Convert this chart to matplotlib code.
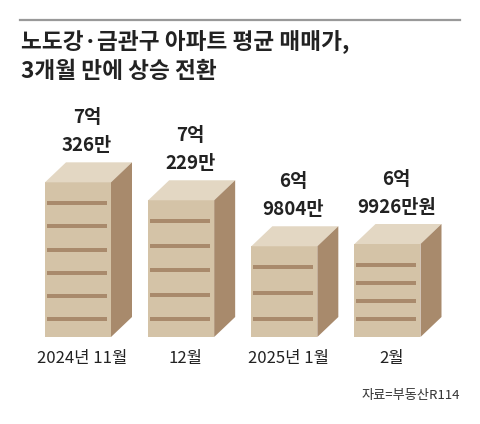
import matplotlib
matplotlib.use("Agg")
import matplotlib.pyplot as plt
from matplotlib.patches import Polygon, Rectangle

plt.rcParams['font.family'] = ['Noto Sans CJK KR', 'DejaVu Sans']

# ---- data ----
categories = ["2024년 11월", "12월", "2025년 1월", "2월"]
values = [73260, 72290, 69804, 69926]          # 만원
label_top = ["7억", "7억", "6억", "6억"]
label_bottom = ["326만", "229만", "9804만", "9926만원"]
title_lines = ["노도강·금관구 아파트 평균 매매가,", "3개월 만에 상승 전환"]
source = "자료=부동산R114"

# ---- style ----
W, H, DPI = 480, 424, 100
BASE = 64900            # value at the bar bottoms
YMAX = 77710
C_FRONT = "#d4c3a7"
C_TOP = "#e3d7c3"
C_SIDE = "#a88a6c"
C_STRIPE = "#a98a6c"
C_TEXT = "#222222"
STRIPES = [6, 5, 3, 4]

fig = plt.figure(figsize=(W / DPI, H / DPI), dpi=DPI)
fig.patch.set_facecolor("white")

# axes geometry in pixels
ax_left_px, ax_right_px = 16.1, 449.4
ax_bottom_px, ax_top_px = 337, 100   # from top
ax = fig.add_axes([ax_left_px / W, 1 - ax_bottom_px / H,
                   (ax_right_px - ax_left_px) / W, (ax_bottom_px - ax_top_px) / H])
ax.set_xlim(-0.6, 3.6)
ax.set_ylim(BASE, YMAX)
ax.axis("off")

px_x = (ax_right_px - ax_left_px) / 4.2           # px per x unit
px_y = (ax_bottom_px - ax_top_px) / (YMAX - BASE)  # px per value unit

bw = 66 / px_x
dx = 21 / px_x
dy = 20 / px_y

x = list(range(len(values)))
ax.bar(x, [v - BASE for v in values], bottom=BASE, width=bw,
       color=C_FRONT, edgecolor="none", zorder=2)

for i, v in enumerate(values):
    l, r = i - bw / 2, i + bw / 2
    # top face
    ax.add_patch(Polygon([(l, v), (r, v), (r + dx, v + dy), (l + dx, v + dy)],
                         closed=True, facecolor=C_TOP, edgecolor="none", zorder=2))
    # side face
    ax.add_patch(Polygon([(r, v), (r + dx, v + dy), (r + dx, BASE + dy), (r, BASE)],
                         closed=True, facecolor=C_SIDE, edgecolor="none", zorder=2))
    # stripes
    n = STRIPES[i]
    y0 = BASE + 18 / px_y
    y1 = v - 21 / px_y
    sh = 4 / px_y
    for k in range(n):
        yc = y0 + (y1 - y0) * k / (n - 1) if n > 1 else y0
        ax.add_patch(Rectangle((l + 2 / px_x, yc - sh / 2), bw - 6 / px_x, sh,
                               facecolor=C_STRIPE, edgecolor="none", zorder=3))
    # value labels
    cx = i + dx / 2 - 1.5 / px_x
    ax.annotate(label_bottom[i], xy=(cx, v + dy), xytext=(0, 17 * 0.72),
                textcoords="offset points", ha="center", va="center",
                fontsize=13.5, fontweight="bold", color=C_TEXT)
    ax.annotate(label_top[i], xy=(cx, v + dy), xytext=(0, 45 * 0.72),
                textcoords="offset points", ha="center", va="center",
                fontsize=13.5, fontweight="bold", color=C_TEXT)
    # category labels
    ax.annotate(categories[i], xy=(i, BASE), xytext=(4 * 0.72, -21 * 0.72),
                textcoords="offset points", ha="center", va="center",
                fontsize=12, color=C_TEXT)

# title rule
fig.add_artist(plt.Line2D([20 / W, 460 / W], [1 - 20 / H, 1 - 20 / H],
                          color="#999999", linewidth=1.6))
fig.text(21 / W, 1 - 41 / H, title_lines[0], ha="left", va="center",
         fontsize=16.3, fontweight="bold", color=C_TEXT)
fig.text(21 / W, 1 - 72 / H, title_lines[1], ha="left", va="center",
         fontsize=16.3, fontweight="bold", color=C_TEXT)
fig.text(460 / W, 1 - 396 / H, source, ha="right", va="center",
         fontsize=9.5, color="#333333")

fig.savefig("out.png", dpi=DPI)
